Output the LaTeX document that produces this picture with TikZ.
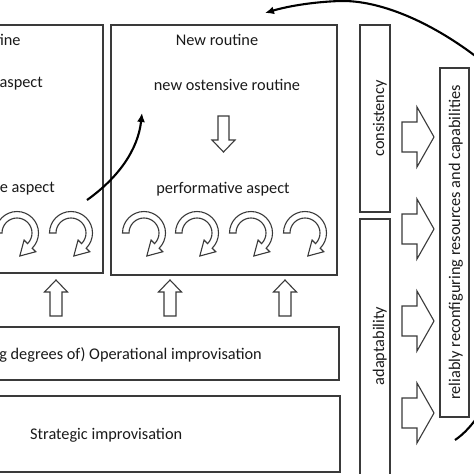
\documentclass[tikz,border=0pt]{standalone}
\usepackage{fontspec}
\setmainfont{Carlito}
\usetikzlibrary{arrows.meta}
\definecolor{boxc}{HTML}{3A3A3A}
\definecolor{txtc}{HTML}{1A1A1A}
\begin{document}
\begin{tikzpicture}[x=1pt,y=-1pt,
  box/.style={draw=boxc, line width=1.4pt, fill=white, inner sep=0pt, rectangle},
  lbl/.style={font=\fontsize{16.3}{19}\selectfont, text=txtc, inner sep=0pt},
  blk/.style={draw=boxc, line width=1.1pt, fill=white, line join=miter},
  curvy/.style={draw=black, line width=2.1pt, -{Latex[length=9pt,width=8pt]}},
  ringarrow/.pic={
    \path[blk] (180:21.5) arc[start angle=180, end angle=405, radius=21.5]
      -- (45:26.5) -- (2.8,23) -- (45:10) -- (45:15)
      arc[start angle=405, end angle=180, radius=15] -- cycle;
  }
]
\path[use as bounding box, clip] (0,0) rectangle (474,474);
\fill[white] (0,0) rectangle (474,474);

% boxes
\node[box, minimum width=226, minimum height=248] (oldbox) at (-10,149) {};
\node[box, minimum width=226, minimum height=250] (newbox) at (224,150) {};
\node[box, minimum width=30, minimum height=187] (consbox) at (375,118.5) {};
\node[box, minimum width=30, minimum height=257] (adapbox) at (375,347.5) {};
\node[box, minimum width=29, minimum height=349] (relbox) at (454.5,242.5) {};
\node[box, minimum width=462, minimum height=53] (opbox) at (108,353.5) {};
\node[box, minimum width=463, minimum height=76] (strbox) at (108.5,434) {};

% texts
\node[lbl, anchor=base] (told) at (-17,45) {Old routine};
\node[lbl, anchor=base east] (toldost) at (43,87) {ostensive aspect};
\node[lbl, anchor=base east] (toldperf) at (55,192) {performative aspect};
\node[lbl, anchor=base] (tnew) at (217,45) {New routine};
\node[lbl, anchor=base] (tnewost) at (227,90) {new ostensive routine};
\node[lbl, anchor=base] (tnewperf) at (223,193) {performative aspect};
\node[lbl, anchor=base east] (top) at (262,359) {(varying degrees of) Operational improvisation};
\node[lbl, anchor=base west] (tstr) at (30,439) {Strategic improvisation};
\node[lbl, anchor=base, rotate=90] (tcons) at (384,118.5) {consistency};
\node[lbl, anchor=base, rotate=90] (tadap) at (384,346) {adaptability};
\node[lbl, anchor=base, rotate=90] (trel) at (460,242.5) {reliably reconfiguring resources and capabilities};

% ring arrows
\foreach \cx in {17,71,144,197,251,305}
  \pic at (\cx,233) {ringarrow};

% down arrow in new box
\path[blk] (218,116) -- (229,116) -- (229,140) -- (235,140) -- (223.5,152)
  -- (212,140) -- (218,140) -- cycle;

% up arrows
\foreach \c in {56,170,285}
  \path[blk] (\c-6,316) -- (\c-6,292) -- (\c-11.5,292) -- (\c,280)
    -- (\c+11.5,292) -- (\c+6,292) -- (\c+6,316) -- cycle;

% right arrows
\foreach \c in {137,229,321,413}
  \path[blk] (402,\c-15) -- (417,\c-15) -- (417,\c-30) -- (434,\c)
    -- (417,\c+30) -- (417,\c+15) -- (402,\c+15) -- cycle;

% curved arrows
\coordinate (cs) at (87,200);
\coordinate (ce) at (142,113);
\draw[curvy] (cs) .. controls (118,178) and (138,150) .. (ce);

\coordinate (bs) at (455,440);
\coordinate (be) at (265,13);
\draw[curvy] (bs) .. controls (530,390) and (560,120) .. (474,55)
  .. controls (430,22) and (380,0) .. (340,1)
  .. controls (310,2) and (285,7) .. (be);
\end{tikzpicture}
\end{document}
